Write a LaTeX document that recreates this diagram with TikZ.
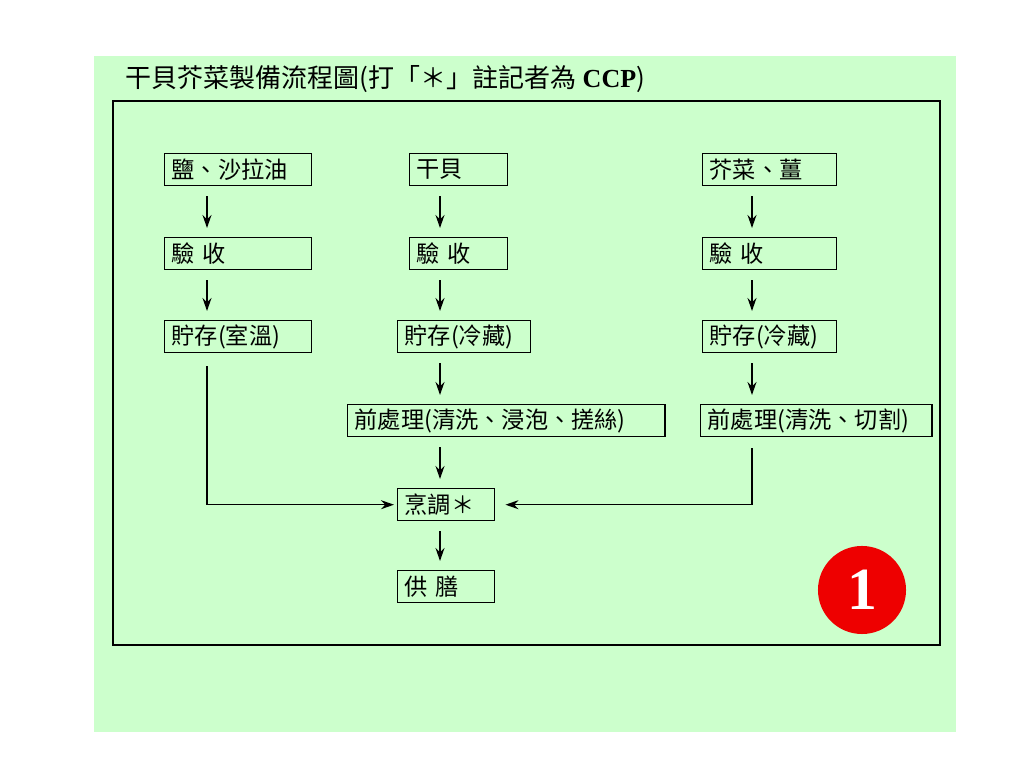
\documentclass[tikz,border=0pt]{standalone}
\usepackage{fontspec}
\setmainfont{Liberation Serif}
\newfontfamily\cjk{Noto Sans CJK TC}
\usetikzlibrary{arrows.meta}
\definecolor{bggreen}{RGB}{204,255,204}
\definecolor{badgered}{RGB}{238,0,0}
\begin{document}
\begin{tikzpicture}[x=0.01cm, y=-0.01cm,
    font=\cjk\fontsize{6.6}{7}\selectfont,
    box/.style={draw, thin, anchor=north west, minimum height=0.32cm,
      text width=#1, align=left, inner xsep=0.07cm, inner ysep=0pt},
    arr/.style={-{Stealth[length=0.13cm, width=0.09cm]}, thin}
  ]
  % background and frame
  \fill[white] (0,0) rectangle (1024,768);
  \fill[bggreen] (94,56) rectangle (956,732);
  \draw[line width=0.8pt] (113,101) rectangle (940,645);
  \node[anchor=south west, inner sep=0pt, font=\cjk\fontsize{7.4}{8}\selectfont] (title) at (125,93)
    {干貝芥菜製備流程圖(打「＊」註記者為 {\rmfamily\bfseries CCP})};

  % left column
  \node[box=1.33cm] (a1) at (164,153) {鹽、沙拉油};
  \node[box=1.33cm] (a2) at (164,237) {驗 收};
  \node[box=1.33cm] (a3) at (164,320) {貯存(室溫)};
  % middle column
  \node[box=0.84cm] (b1) at (409,153) {干貝};
  \node[box=0.84cm] (b2) at (409,237) {驗 收};
  \node[box=1.19cm] (b3) at (397,320) {貯存(冷藏)};
  \node[box=3.03cm] (b4) at (347,404) {前處理(清洗、浸泡、搓絲)};
  \node[box=0.83cm] (b5) at (397,488) {烹調＊};
  \node[box=0.83cm] (b6) at (397,570) {供 膳};
  % right column
  \node[box=1.20cm] (c1) at (702,153) {芥菜、薑};
  \node[box=1.20cm] (c2) at (702,237) {驗 收};
  \node[box=1.20cm] (c3) at (702,320) {貯存(冷藏)};
  \node[box=2.17cm] (c4) at (700,404) {前處理(清洗、切割)};

  \coordinate (xa) at (207,0);
  \coordinate (xb) at (440,0);
  \coordinate (xc) at (752,0);

  % arrows
  \foreach \s/\t/\x in {a1/a2/xa, a2/a3/xa, b1/b2/xb, b2/b3/xb, b3/b4/xb,
      b4/b5/xb, b5/b6/xb, c1/c2/xc, c2/c3/xc, c3/c4/xc}
    \draw[arr, shorten <=0.1cm, shorten >=0.09cm] (\s.south -| \x) -- (\t.north -| \x);
  \draw[arr] ([yshift=-0.13cm]a3.south -| xa) |- ([xshift=-0.03cm]b5.west);
  \draw[arr] ([yshift=-0.11cm]c4.south -| xc) |- ([xshift=0.1cm]b5.east);

  % badge
  \node[circle, fill=badgered, minimum size=0.88cm, inner sep=0pt, text=white,
    font=\rmfamily\bfseries\fontsize{17}{18}\selectfont] (badge) at (862,590) {1};
\end{tikzpicture}
\end{document}
